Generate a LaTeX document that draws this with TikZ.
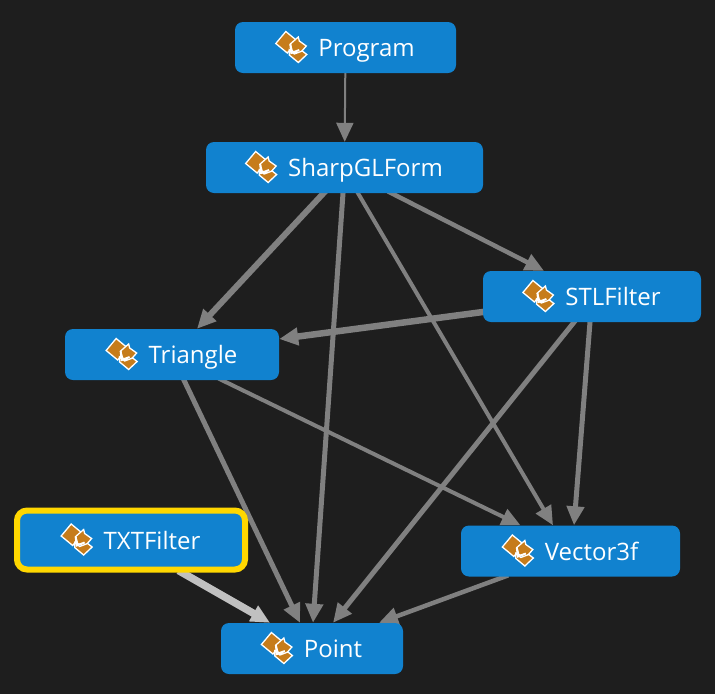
\documentclass[tikz,border=0pt]{standalone}
\usepackage{fontspec}
\setmainfont{Open Sans}
\usetikzlibrary{calc,arrows.meta,backgrounds}
\definecolor{canvas}{HTML}{1E1E1E}
\definecolor{classblue}{HTML}{1182CF}
\definecolor{classicon}{HTML}{C67C1B}
\definecolor{linkgray}{HTML}{808080}
\definecolor{linklight}{HTML}{C0C0C0}
\definecolor{selected}{HTML}{FFD700}
\tikzset{
  class/.style={fill=classblue, text=white, rounded corners=8pt, minimum height=51pt, inner sep=0pt, text height=21pt, text depth=3pt, font=\fontsize{24}{28}\selectfont},
  selclass/.style={class, draw=selected, line width=6pt, rounded corners=10pt},
  link/.style={-{Triangle[width=17pt,length=19pt]}, draw=linkgray, fill=linkgray, line width=#1, shorten <=-4pt},
  link/.default=5pt,
  sellink/.style={link=#1, draw=linklight, fill=linklight},
  iconpart/.style={fill=classicon, draw=white, line width=1.3pt, line join=miter},
  classglyph/.pic={
    \path[iconpart] (-15.5,-3.5) -- (-5.5,-15.5) -- (6,-6) -- (-4,6) -- cycle;
    \path[iconpart] (-1,-3) -- (7,-10) -- (8,-6) -- (15,-1) -- (8,7) -- (1,4) -- cycle;
    \path[iconpart] (-2,3) -- (3,7) -- (11,4) -- (15.5,7.5) -- (7,15.5) -- (-2,8) -- cycle;
    \draw[white, line width=2pt] (-1,-3) -- (0,6) -- (8,3);
  }
}
\begin{document}
\begin{tikzpicture}[x=1pt,y=-1pt]
  \useasboundingbox (0,0) rectangle (715,694);
  % classes
  \node[class, minimum width=221pt] (program) at (345.5,47.5) {\hspace{42pt}Program};
  \node[class, minimum width=277pt] (sharpglform) at (344.5,167.5) {\hspace{42pt}SharpGLForm};
  \node[class, minimum width=218pt] (stlfilter) at (592,296.5) {\hspace{42pt}STLFilter};
  \node[class, minimum width=214pt] (triangle) at (172,354.5) {\hspace{42pt}Triangle};
  \node[selclass, minimum width=228pt, minimum height=59pt] (txtfilter) at (131,540) {\hspace{42pt}TXTFilter};
  \node[class, minimum width=219pt] (vector3f) at (570.5,551) {\hspace{42pt}Vector3f};
  \node[class, minimum width=182pt] (point) at (312,648.5) {\hspace{42pt}Point};
  \foreach \cname in {program,sharpglform,stlfilter,triangle,txtfilter,vector3f,point}
    \pic at ($(\cname.text)+(15,-9.5)$) {classglyph};
  % references, under the classes
  \begin{scope}[on background layer]
  \fill[canvas] (0,0) rectangle (715,694);
  \draw[link=2pt, shorten <=0pt] (program) -- (sharpglform);
  \draw[link=6pt] ([xshift=-21pt]sharpglform.south) -- ([xshift=25pt]triangle.north);
  \draw[link=5pt] ([xshift=-1.5pt]sharpglform.south) -- ([xshift=1pt]point.north);
  \draw[link=4pt] ([xshift=13.5pt]sharpglform.south) -- ([xshift=-17.5pt]vector3f.north);
  \draw[link=4.5pt] ([xshift=47pt]sharpglform.south) -- ([xshift=-48pt]stlfilter.north);
  \draw[link=6.5pt] ([yshift=-15.5pt]stlfilter.west) -- ([yshift=15.5pt]triangle.east);
  \draw[link=5pt] ([xshift=-18pt]stlfilter.south) -- ([xshift=21pt]point.north);
  \draw[link=5pt] ([xshift=-2pt]stlfilter.south) -- ([xshift=3.5pt]vector3f.north);
  \draw[link=5pt] ([xshift=12pt]triangle.south) -- ([xshift=-12pt]point.north);
  \draw[link=4pt] ([xshift=50pt]triangle.south) -- ([xshift=-50pt]vector3f.north);
  \draw[sellink=7.5pt] ([xshift=51pt]txtfilter.south) -- ([xshift=-42pt]point.north);
  \draw[link=4.5pt] ([xshift=-66pt]vector3f.south) -- ([xshift=67pt]point.north);
  \end{scope}
\end{tikzpicture}
\end{document}
